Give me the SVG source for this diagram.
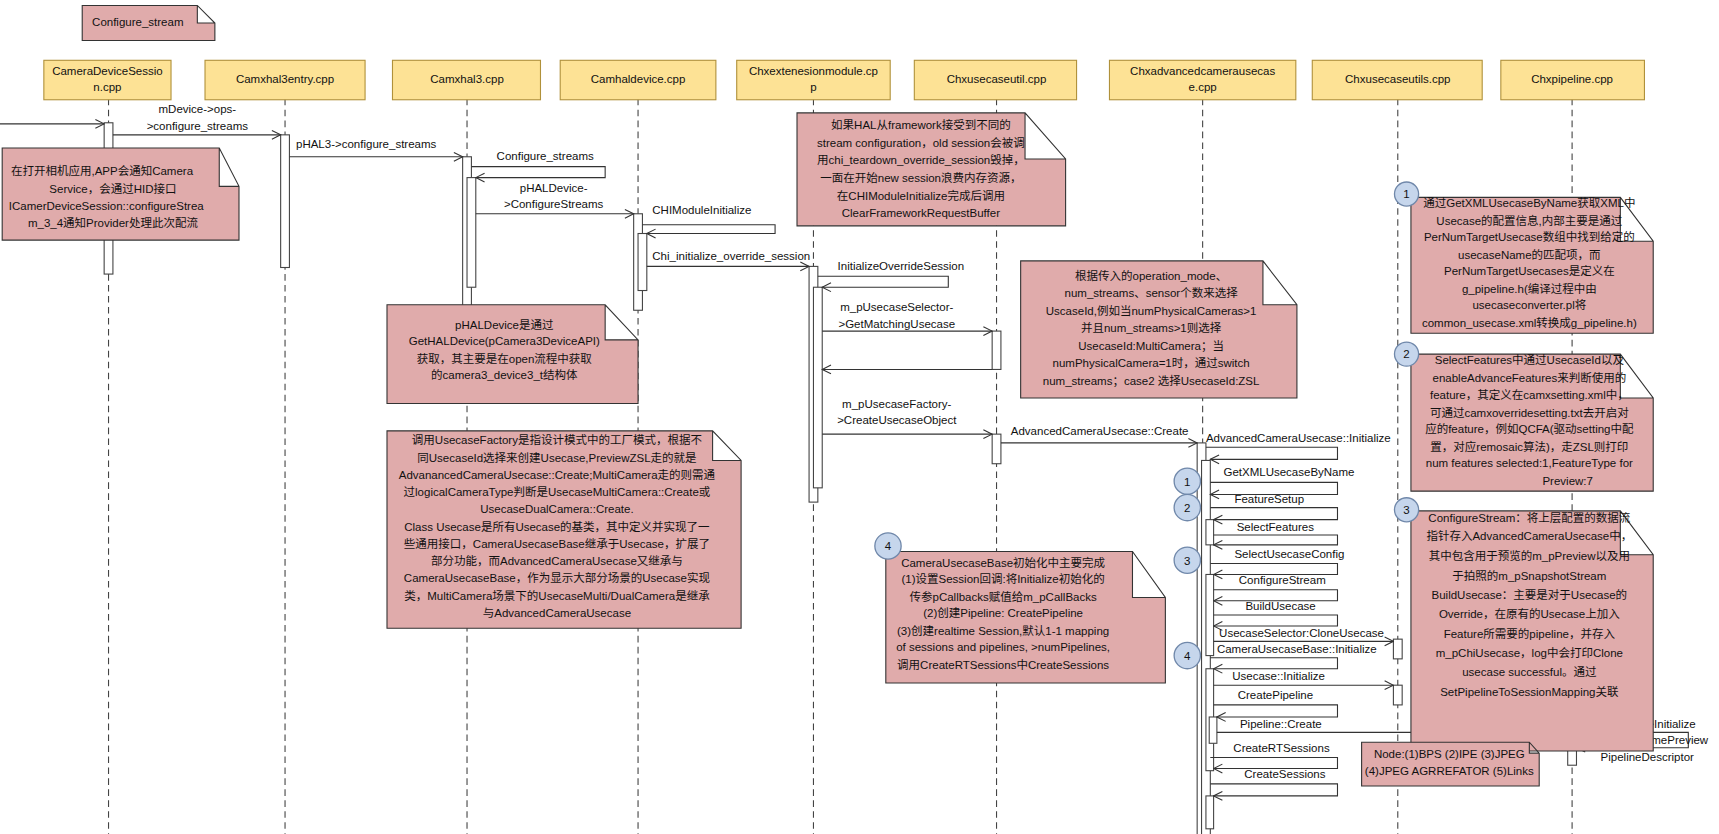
<svg xmlns="http://www.w3.org/2000/svg" width="1719" height="834" viewBox="0 0 1719 834">
<style>
text{font-family:"Liberation Sans","Noto Sans CJK SC",sans-serif;font-size:10.5px;fill:#111}
.c{text-anchor:middle}
.hd{fill:#fde295;stroke:#b0913a;stroke-width:1}
.ll{stroke:#444;stroke-dasharray:6,4;stroke-width:1;fill:none}
.act{fill:#fff;stroke:#444;stroke-width:1}
.note{fill:#e0abab;stroke:#333;stroke-width:1}
.m{stroke:#333;stroke-width:1;fill:none}
.num{fill:#c6d6ec;stroke:#7088aa;stroke-width:1.2}
</style>
<defs>
<marker id="a" markerWidth="10" markerHeight="10" refX="9" refY="5" orient="auto" markerUnits="userSpaceOnUse"><path d="M1,1 L9,5 L1,9" fill="none" stroke="#333"/></marker>
</defs>
<rect width="1719" height="834" fill="#fff"/>
<g transform="scale(1.0963)">
<g id="title"><path class="note" d="M75,5 H180 L196,21 V37 H75 Z M180,5 V21 H196"/><text x="84" y="24">Configure_stream</text></g>
<g id="lifelines">
<line class="ll" x1="99" y1="90" x2="99" y2="834"/><line class="ll" x1="260" y1="90" x2="260" y2="834"/>
<line class="ll" x1="426" y1="90" x2="426" y2="834"/><line class="ll" x1="582" y1="90" x2="582" y2="834"/>
<line class="ll" x1="742" y1="90" x2="742" y2="834"/><line class="ll" x1="909" y1="90" x2="909" y2="834"/>
<line class="ll" x1="1097" y1="90" x2="1097" y2="834"/><line class="ll" x1="1275" y1="90" x2="1275" y2="834"/>
<line class="ll" x1="1434" y1="90" x2="1434" y2="834"/>
</g>
<g id="n1"><rect class="hd" x="40" y="55" width="116" height="36"/><text class="c" x="98" y="68">CameraDeviceSessio</text><text class="c" x="98" y="83">n.cpp</text></g>
<g id="n2"><rect class="hd" x="187" y="55" width="146" height="36"/><text class="c" x="260" y="76">Camxhal3entry.cpp</text></g>
<g id="n3"><rect class="hd" x="358" y="55" width="135" height="36"/><text class="c" x="426" y="76">Camxhal3.cpp</text></g>
<g id="n4"><rect class="hd" x="511" y="55" width="142" height="36"/><text class="c" x="582" y="76">Camhaldevice.cpp</text></g>
<g id="n5"><rect class="hd" x="672" y="55" width="140" height="36"/><text class="c" x="742" y="68">Chxextenesionmodule.cp</text><text class="c" x="742" y="83">p</text></g>
<g id="n6"><rect class="hd" x="834" y="55" width="148" height="36"/><text class="c" x="909" y="76">Chxusecaseutil.cpp</text></g>
<g id="n7"><rect class="hd" x="1012" y="55" width="170" height="36"/><text class="c" x="1097" y="68">Chxadvancedcamerausecas</text><text class="c" x="1097" y="83">e.cpp</text></g>
<g id="n8"><rect class="hd" x="1197" y="55" width="155" height="36"/><text class="c" x="1275" y="76">Chxusecaseutils.cpp</text></g>
<g id="n9"><rect class="hd" x="1369" y="55" width="131" height="36"/><text class="c" x="1434" y="76">Chxpipeline.cpp</text></g>
<g id="activations">
<rect class="act" x="95" y="112" width="8" height="138"/>
<rect class="act" x="256" y="123" width="8" height="121"/>
<rect class="act" x="422" y="143" width="8" height="147"/>
<rect class="act" x="426" y="162" width="8" height="100"/>
<rect class="act" x="578" y="195" width="8" height="88"/>
<rect class="act" x="582" y="213" width="8" height="52"/>
<rect class="act" x="738" y="243" width="8" height="215"/>
<rect class="act" x="742" y="262" width="8" height="183"/>
<rect class="act" x="905" y="302" width="8" height="35"/>
<rect class="act" x="905" y="396" width="8" height="27"/>
<rect class="act" x="1092" y="404" width="8" height="411"/>
<rect class="act" x="1096" y="420" width="8" height="388"/>
<rect class="act" x="1100" y="474" width="7" height="23"/>
<rect class="act" x="1100" y="524" width="7" height="74"/>
<rect class="act" x="1100" y="610" width="7" height="93"/>
<rect class="act" x="1103" y="654" width="7" height="24"/>
<rect class="act" x="1100" y="726" width="7" height="30"/>
<rect class="act" x="1271" y="583" width="8" height="18"/>
<rect class="act" x="1271" y="625" width="8" height="18"/>
<rect class="act" x="1430" y="664" width="8" height="34"/>
</g>
<g id="connectors">
<path class="m" d="M0,113 H95" marker-end="url(#a)"/>
<path class="m" d="M103,123 H256" marker-end="url(#a)"/>
<path class="m" d="M264,143 H422" marker-end="url(#a)"/>
<path class="m" d="M430,152 H552 V162 H434" marker-end="url(#a)"/>
<path class="m" d="M434,195 H578" marker-end="url(#a)"/>
<path class="m" d="M586,205 H707 V213 H590" marker-end="url(#a)"/>
<path class="m" d="M590,243 H738" marker-end="url(#a)"/>
<path class="m" d="M746,252 H865 V262 H750" marker-end="url(#a)"/>
<path class="m" d="M750,302 H905" marker-end="url(#a)"/>
<path class="m" d="M905,337 H750" marker-end="url(#a)"/>
<path class="m" d="M750,396 H905" marker-end="url(#a)"/>
<path class="m" d="M913,404 H1092" marker-end="url(#a)"/>
<path class="m" d="M1100,408 H1220 V419 H1104" marker-end="url(#a)"/>
<path class="m" d="M1104,440 H1220 V451 H1104" marker-end="url(#a)"/>
<path class="m" d="M1104,463 H1220 V474 H1107" marker-end="url(#a)"/>
<path class="m" d="M1107,488 H1220 V497 H1107" marker-end="url(#a)"/>
<path class="m" d="M1104,514 H1220 V524 H1107" marker-end="url(#a)"/>
<path class="m" d="M1107,538 H1220 V548 H1107" marker-end="url(#a)"/>
<path class="m" d="M1107,561 H1220 V571 H1107" marker-end="url(#a)"/>
<path class="m" d="M1107,585 H1271" marker-end="url(#a)"/>
<path class="m" d="M1104,600 H1220 V610 H1107" marker-end="url(#a)"/>
<path class="m" d="M1107,625 H1271" marker-end="url(#a)"/>
<path class="m" d="M1107,643 H1220 V654 H1110" marker-end="url(#a)"/>
<path class="m" d="M1110,668 H1430" marker-end="url(#a)"/>
<path class="m" d="M1438,668 H1540 V682 H1438" marker-end="url(#a)"/>
<path class="m" d="M1104,691 H1220 V701 H1107" marker-end="url(#a)"/>
<path class="m" d="M1104,715 H1220 V726 H1107" marker-end="url(#a)"/>
</g>
<g id="labels">
<text class="c" x="180" y="103">mDevice-&gt;ops-</text><text class="c" x="180" y="119">&gt;configure_streams</text>
<text x="270" y="135">pHAL3-&gt;configure_streams</text>
<text x="453" y="146">Configure_streams</text>
<text class="c" x="505" y="175">pHALDevice-</text><text class="c" x="505" y="190">&gt;ConfigureStreams</text>
<text x="595" y="195">CHIModuleInitialize</text>
<text x="595" y="237">Chi_initialize_override_session</text>
<text x="764" y="246">InitializeOverrideSession</text>
<text class="c" x="818" y="284">m_pUsecaseSelector-</text><text class="c" x="818" y="299">&gt;GetMatchingUsecase</text>
<text class="c" x="818" y="372">m_pUsecaseFactory-</text><text class="c" x="818" y="387">&gt;CreateUsecaseObject</text>
<text x="922" y="397">AdvancedCameraUsecase::Create</text>
<text x="1100" y="403">AdvancedCameraUsecase::Initialize</text>
<text x="1116" y="434">GetXMLUsecaseByName</text>
<text x="1126" y="459">FeatureSetup</text>
<text x="1128" y="484">SelectFeatures</text>
<text x="1126" y="509">SelectUsecaseConfig</text>
<text x="1130" y="533">ConfigureStream</text>
<text x="1136" y="556">BuildUsecase</text>
<text x="1112" y="581">UsecaseSelector:CloneUsecase</text>
<text x="1110" y="596">CameraUsecaseBase::Initialize</text>
<text x="1124" y="620">Usecase::Initialize</text>
<text x="1129" y="638">CreatePipeline</text>
<text x="1131" y="664">Pipeline::Create</text>
<text x="1125" y="686">CreateRTSessions</text>
<text x="1135" y="710">CreateSessions</text>
<text x="1456" y="664">pPipeline-&gt;Initialize</text>
<text x="1452" y="679">SetupRealtimePreview</text>
<text x="1460" y="694">PipelineDescriptor</text>
</g>
<g id="note-left"><path class="note" d="M2,135 H200 L218,170 V219 H2 Z M200,135 V170 H218"/>
<text x="10" y="160">在打开相机应用,APP会通知Camera</text><text class="c" x="103" y="176">Service，会通过HID接口</text><text x="8" y="192">ICamerDeviceSession::configureStrea</text><text class="c" x="103" y="207">m_3_4通知Provider处理此次配流</text></g>
<g id="note-mid"><path class="note" d="M727,103 H935 L972,145 V206 H727 Z M935,103 V145 H972"/>
<text class="c" x="840" y="118">如果HAL从framework接受到不同的</text><text class="c" x="840" y="134">stream configuration，old session会被调</text><text class="c" x="840" y="150">用chi_teardown_override_session毁掉，</text><text class="c" x="840" y="166">一面在开始new session浪费内存资源，</text><text class="c" x="840" y="182">在CHIModuleInitialize完成后调用</text><text class="c" x="840" y="198">ClearFrameworkRequestBuffer</text></g>
<g id="note-hal"><path class="note" d="M353,278 H552 L582,310 V368 H353 Z M552,278 V310 H582"/>
<text class="c" x="460" y="300">pHALDevice是通过</text><text class="c" x="460" y="315">GetHALDevice(pCamera3DeviceAPI)</text><text class="c" x="460" y="331">获取，其主要是在open流程中获取</text><text class="c" x="460" y="346">的camera3_device3_t结构体</text></g>
<g id="note-factory"><path class="note" d="M353,393 H650 L676,420 V573 H353 Z M650,393 V420 H676"/>
<text class="c" x="508" y="405">调用UsecaseFactory是指设计模式中的工厂模式，根据不</text>
<text class="c" x="508" y="421">同UsecaseId选择来创建Usecase,PreviewZSL走的就是</text>
<text class="c" x="508" y="437">AdvanancedCameraUsecase::Create;MultiCamera走的则需通</text>
<text class="c" x="508" y="452">过logicalCameraType判断是UsecaseMultiCamera::Create或</text>
<text class="c" x="508" y="468">UsecaseDualCamera::Create.</text>
<text class="c" x="508" y="484">Class Usecase是所有Usecase的基类，其中定义并实现了一</text>
<text class="c" x="508" y="500">些通用接口，CameraUsecaseBase继承于Usecase，扩展了</text>
<text class="c" x="508" y="515">部分功能，而AdvancedCameraUsecase又继承与</text>
<text class="c" x="508" y="531">CameraUsecaseBase，作为显示大部分场景的Usecase实现</text>
<text class="c" x="508" y="547">类，MultiCamera场景下的UsecaseMulti/DualCamera是继承</text>
<text class="c" x="508" y="563">与AdvancedCameraUsecase</text></g>
<g id="note-select"><path class="note" d="M931,238 H1152 L1183,278 V363 H931 Z M1152,238 V278 H1183"/>
<text class="c" x="1050" y="255">根据传入的operation_mode、</text><text class="c" x="1050" y="271">num_streams、sensor个数来选择</text><text class="c" x="1050" y="287">UscaseId,例如当numPhysicalCameras&gt;1</text><text class="c" x="1050" y="303">并且num_streams&gt;1则选择</text><text class="c" x="1050" y="319">UsecaseId:MultiCamera；当</text><text class="c" x="1050" y="335">numPhysicalCamera=1时，通过switch</text><text class="c" x="1050" y="351">num_streams；case2 选择UsecaseId:ZSL</text></g>
<g id="note-4"><path class="note" d="M808,503 H1033 L1063,545 V623 H808 Z M1033,503 V545 H1063"/>
<text class="c" x="915" y="517">CameraUsecaseBase初始化中主要完成</text><text class="c" x="915" y="532">(1)设置Session回调:将Initialize初始化的</text><text class="c" x="915" y="548">传参pCallbacks赋值给m_pCallBacks</text><text class="c" x="915" y="563">(2)创建Pipeline: CreatePipeline</text><text class="c" x="915" y="579">(3)创建realtime Session,默认1-1 mapping</text><text class="c" x="915" y="594">of sessions and pipelines, &gt;numPipelines,</text><text class="c" x="915" y="610">调用CreateRTSessions中CreateSessions</text>
<circle class="num" cx="810" cy="498" r="12"/><text class="c" x="810" y="502">4</text></g>
<g id="note-r1"><path class="note" d="M1287,180 H1478 L1508,220 V304 H1287 Z M1478,180 V220 H1508"/>
<text class="c" x="1395" y="189">通过GetXMLUsecaseByName获取XML中</text><text class="c" x="1395" y="205">Usecase的配置信息,内部主要是通过</text><text class="c" x="1395" y="220">PerNumTargetUsecase数组中找到给定的</text><text class="c" x="1395" y="236">usecaseName的匹配项，而</text><text class="c" x="1395" y="251">PerNumTargetUsecases是定义在</text><text class="c" x="1395" y="267">g_pipeline.h(编译过程中由</text><text class="c" x="1395" y="282">usecaseconverter.pl将</text><text class="c" x="1395" y="298">common_usecase.xml转换成g_pipeline.h)</text>
<circle class="num" cx="1283" cy="177" r="11"/><text class="c" x="1283" y="181">1</text></g>
<g id="note-r2"><path class="note" d="M1287,323 H1478 L1508,363 V448 H1287 Z M1478,323 V363 H1508"/>
<text class="c" x="1395" y="332">SelectFeatures中通过UsecaseId以及</text><text class="c" x="1395" y="348">enableAdvanceFeatures来判断使用的</text><text class="c" x="1395" y="364">feature，其定义在camxsetting.xml中，</text><text class="c" x="1395" y="380">可通过camxoverridesetting.txt去开启对</text><text class="c" x="1395" y="395">应的feature，例如QCFA(驱动setting中配</text><text class="c" x="1395" y="411">置，对应remosaic算法)，走ZSL则打印</text><text class="c" x="1395" y="426">num features selected:1,FeatureType for</text><text class="c" x="1430" y="442">Preview:7</text>
<circle class="num" cx="1283" cy="323" r="11"/><text class="c" x="1283" y="327">2</text></g>
<g id="note-r3"><path class="note" d="M1287,466 H1478 L1508,506 V685 H1287 Z M1478,466 V506 H1508"/>
<text class="c" x="1395" y="476">ConfigureStream：将上层配置的数据流</text><text class="c" x="1395" y="493">指针存入AdvancedCameraUsecase中，</text><text class="c" x="1395" y="511">其中包含用于预览的m_pPreview以及用</text><text class="c" x="1395" y="529">于拍照的m_pSnapshotStream</text><text class="c" x="1395" y="546">BuildUsecase：主要是对于Usecase的</text><text class="c" x="1395" y="564">Override，在原有的Usecase上加入</text><text class="c" x="1395" y="582">Feature所需要的pipeline，并存入</text><text class="c" x="1395" y="599">m_pChiUsecase，log中会打印Clone</text><text class="c" x="1395" y="617">usecase successful。通过</text><text class="c" x="1395" y="635">SetPipelineToSessionMapping关联</text>
<circle class="num" cx="1283" cy="465" r="11"/><text class="c" x="1283" y="469">3</text></g>
<g id="note-node"><path class="note" d="M1242,677 H1395 L1404,687 V717 H1242 Z M1395,677 V687 H1404"/>
<text class="c" x="1322" y="691">Node:(1)BPS (2)IPE (3)JPEG</text><text class="c" x="1322" y="707">(4)JPEG AGRREFATOR (5)Links</text></g>
<g id="markers">
<circle class="num" cx="1083" cy="439" r="12"/><text class="c" x="1083" y="443">1</text>
<circle class="num" cx="1083" cy="463" r="12"/><text class="c" x="1083" y="467">2</text>
<circle class="num" cx="1083" cy="511" r="12"/><text class="c" x="1083" y="515">3</text>
<circle class="num" cx="1083" cy="598" r="12"/><text class="c" x="1083" y="602">4</text>
</g>
</g>
</svg>
